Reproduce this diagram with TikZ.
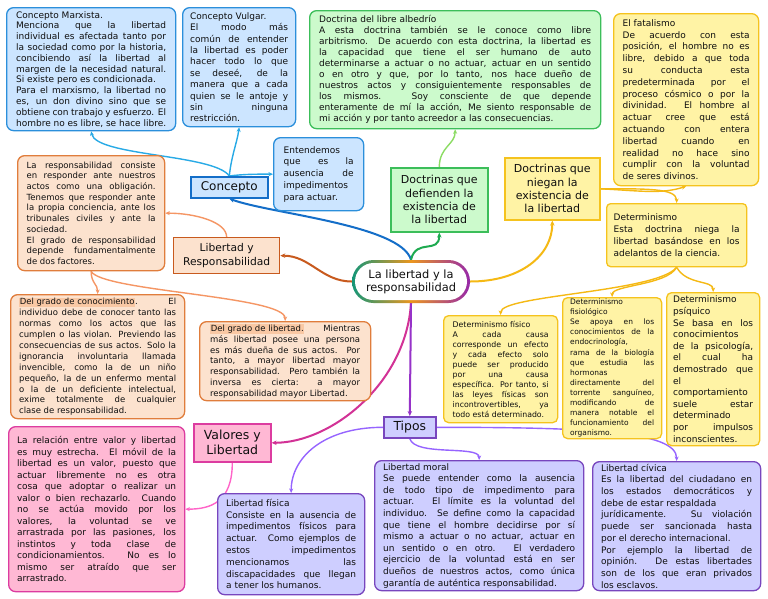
\documentclass[tikz,border=0pt]{standalone}
\usepackage{fontspec}
\setmainfont{DejaVu Sans}
\usetikzlibrary{arrows.meta,backgrounds}

\definecolor{txt}{RGB}{15,15,15}
\definecolor{bluefill}{RGB}{204,229,255}
\definecolor{bluedraw}{RGB}{43,143,219}
\definecolor{greenfill}{RGB}{204,250,204}
\definecolor{greendraw}{RGB}{60,190,90}
\definecolor{yellowfill}{RGB}{255,243,165}
\definecolor{yellowdraw}{RGB}{245,195,30}
\definecolor{peachfill}{RGB}{252,226,206}
\definecolor{peachdraw}{RGB}{224,125,60}
\definecolor{hlpeach}{RGB}{249,200,164}
\definecolor{pinkfill}{RGB}{255,184,212}
\definecolor{pinkdraw}{RGB}{220,60,160}
\definecolor{lilacfill}{RGB}{206,206,255}
\definecolor{lilacdraw}{RGB}{120,70,190}
\definecolor{cdeep}{RGB}{20,110,200}
\definecolor{csky}{RGB}{40,170,230}
\definecolor{cgreen}{RGB}{30,170,80}
\definecolor{cmint}{RGB}{140,220,100}
\definecolor{cgold}{RGB}{245,185,20}
\definecolor{cbrown}{RGB}{200,90,30}
\definecolor{cpeach}{RGB}{245,150,100}
\definecolor{cmagenta}{RGB}{210,50,150}
\definecolor{cpink}{RGB}{255,100,200}
\definecolor{cviolet}{RGB}{150,50,200}
\definecolor{clav}{RGB}{150,100,255}
\definecolor{ringteal}{RGB}{20,150,120}
\definecolor{ringorange}{RGB}{235,150,30}
\definecolor{ringpurple}{RGB}{150,40,170}

\tolerance=10000
\hbadness=10000
\hyphenpenalty=10000
\exhyphenpenalty=10000

\newcommand\fs[2]{\fontsize{#1}{#2}\selectfont}
\newcommand\hlt[1]{{\setlength{\fboxsep}{0.6pt}\colorbox{hlpeach}{#1}}}

\tikzset{
	note/.style={rectangle, rounded corners=7pt, line width=1.3pt, inner sep=0pt,
		anchor=north west, align=justify, text=txt},
	bluenote/.style={note, draw=bluedraw, fill=bluefill},
	greennote/.style={note, draw=greendraw, fill=greenfill},
	yellownote/.style={note, draw=yellowdraw, fill=yellowfill},
	peachnote/.style={note, draw=peachdraw, fill=peachfill},
	pinknote/.style={note, draw=pinkdraw, fill=pinkfill},
	lilacnote/.style={note, draw=lilacdraw, fill=lilacfill},
	topic/.style={rectangle, line width=1.6pt, inner sep=0pt, anchor=north west,
		align=center, text=txt},
	branch/.style={line width=2pt, -{Stealth[length=5pt,width=4.5pt]}},
	twig/.style={line width=1.4pt, -{Stealth[length=4.5pt,width=4pt]}},
}

\begin{document}
\begin{tikzpicture}[x=1pt, y=-1pt]
	\useasboundingbox (0,0) rectangle (768,598);

	% Centre
	\node[rectangle, rounded corners=21.5pt, minimum width=118pt, minimum height=43pt, inner sep=0pt,
		left color=ringteal, right color=ringpurple, middle color=ringorange] (root) at (411,281.5) {};
	\node[rectangle, rounded corners=18.5pt, minimum width=112pt, minimum height=37pt, inner sep=0pt,
		fill=white, align=center, text=txt, font=\fs{11.4}{13.3}] (roottext) at (root.center)
		{La libertad y la\\responsabilidad};

	% Concepto
	\node[topic, draw=cdeep, fill=bluefill, minimum width=77pt, minimum height=21pt, font=\fs{12}{14}]
		(concepto) at (190,176) {Concepto};

	\node[bluenote, minimum width=169pt, minimum height=123pt, text width=150pt, font=\fs{9}{10.8}]
		(marx) at (6,7) {Concepto Marxista.\newline
		Menciona que la libertad\linebreak
		individual es afectada tanto por\linebreak
		la sociedad como por la historia,\linebreak
		concibiendo así la libertad al\linebreak
		margen de la necesidad natural.\linebreak
		Si existe pero es condicionada.\newline
		Para el marxismo, la libertad no\linebreak
		es, un don divino sino que se\linebreak
		obtiene con trabajo y esfuerzo. El\linebreak
		hombre no es libre, se hace libre.};

	\node[bluenote, minimum width=113pt, minimum height=119pt, text width=98pt, font=\fs{9}{11.4}]
		(vulg) at (182,7) {Concepto Vulgar.\newline
		El modo más\linebreak
		común de entender\linebreak
		la libertad es poder\linebreak
		hacer todo lo que\linebreak
		se deseé, de la\linebreak
		manera que a cada\linebreak
		quien se le antoje y\linebreak
		sin ninguna\linebreak
		restricción.};

	\node[bluenote, minimum width=90pt, minimum height=73pt, text width=70pt, font=\fs{9}{11.7}]
		(entend) at (273,137) {Entendemos\newline
		que es la\linebreak
		ausencia de\linebreak
		impedimentos\newline
		para actuar.};

	% Doctrinas que defienden
	\node[topic, draw=greendraw, fill=greenfill, minimum width=97pt, minimum height=64pt, font=\fs{11}{13.3}]
		(defiend) at (390,167) {Doctrinas que\\defienden la\\existencia de\\la libertad};

	\node[greennote, minimum width=291pt, minimum height=118pt, text width=272pt, font=\fs{9}{11}]
		(albe) at (309,10) {Doctrina del libre albedrío\newline
		A esta doctrina también se le conoce como libre\linebreak
		arbitrismo. De acuerdo con esta doctrina, la libertad es\linebreak
		la capacidad que tiene el ser humano de auto\linebreak
		determinarse a actuar o no actuar, actuar en un sentido\linebreak
		o en otro y que, por lo tanto, nos hace dueño de\linebreak
		nuestros actos y consiguientemente responsables de\linebreak
		los mismos. Soy consciente de que depende\linebreak
		enteramente de mí la acción, Me siento responsable de\linebreak
		mi acción y por tanto acreedor a las consecuencias.};

	% Doctrinas que niegan
	\node[topic, draw=yellowdraw, fill=yellowfill, minimum width=95pt, minimum height=62pt, font=\fs{11}{13.3}]
		(niegan) at (504,157) {Doctrinas que\\niegan la\\existencia de\\la libertad};

	\node[yellownote, minimum width=145pt, minimum height=172pt, text width=127pt, font=\fs{9}{11.8}]
		(fatal) at (613,13) {El fatalismo\newline
		De acuerdo con esta\linebreak
		posición, el hombre no es\linebreak
		libre, debido a que toda\linebreak
		su conducta esta\linebreak
		predeterminada por el\linebreak
		proceso cósmico o por la\linebreak
		divinidad. El hombre al\linebreak
		actuar cree que está\linebreak
		actuando con entera\linebreak
		libertad cuando en\linebreak
		realidad no hace sino\linebreak
		cumplir con la voluntad\linebreak
		de seres divinos.};

	\node[yellownote, rounded corners=4pt, minimum width=140pt, minimum height=63pt, text width=126pt, font=\fs{9}{11.7}]
		(determ) at (606,203) {Determinismo\newline
		Esta doctrina niega la\linebreak
		libertad basándose en los\linebreak
		adelantos de la ciencia.};

	\node[yellownote, rounded corners=5pt, minimum width=114pt, minimum height=107pt, text width=96pt, font=\fs{7.8}{10}]
		(fisico) at (443,315) {Determinismo físico\newline
		A cada causa\linebreak
		corresponde un efecto\linebreak
		y cada efecto solo\linebreak
		puede ser producido\linebreak
		por una causa\linebreak
		específica. Por tanto, si\linebreak
		las leyes físicas son\linebreak
		incontrovertibles, ya\linebreak
		todo está determinado.};

	\node[yellownote, rounded corners=5pt, minimum width=99pt, minimum height=141pt, text width=84pt, font=\fs{7.5}{10.1}]
		(fisiol) at (562,297) {Determinismo\newline
		fisiológico\newline
		Se apoya en los\linebreak
		conocimientos de la\linebreak
		endocrinología,\newline
		rama de la biología\linebreak
		que estudia las\linebreak
		hormonas\newline
		directamente del\linebreak
		torrente sanguíneo,\linebreak
		modificando de\linebreak
		manera notable el\linebreak
		funcionamiento del\linebreak
		organismo.};

	\node[yellownote, rounded corners=5pt, minimum width=93pt, minimum height=153pt, text width=80pt, font=\fs{9}{11.6}]
		(psiq) at (666,292) {Determinismo\newline
		psíquico\newline
		Se basa en los\linebreak
		conocimientos\newline
		de la psicología,\linebreak
		el cual ha\linebreak
		demostrado que\linebreak
		el\newline
		comportamiento\newline
		suele estar\linebreak
		determinado\newline
		por impulsos\linebreak
		inconscientes.};

	% Libertad y Responsabilidad
	\node[topic, draw=cbrown, fill=peachfill, line width=1.3pt, minimum width=106pt, minimum height=36pt, font=\fs{10.7}{13.3}]
		(lyr) at (173,237) {Libertad y\\Responsabilidad};

	\node[peachnote, minimum width=147pt, minimum height=115pt, text width=129pt, font=\fs{8.5}{10.7}]
		(resp) at (17,155) {La responsabilidad consiste\linebreak
		en responder ante nuestros\linebreak
		actos como una obligación.\linebreak
		Tenemos que responder ante\linebreak
		la propia conciencia, ante los\linebreak
		tribunales civiles y ante la\linebreak
		sociedad.\newline
		El grado de responsabilidad\linebreak
		depende fundamentalmente\linebreak
		de dos factores.};

	\node[peachnote, minimum width=174pt, minimum height=124pt, text width=157pt, font=\fs{8.5}{10.9}]
		(conoc) at (10,294) {\hlt{Del grado de conocimiento}. El\linebreak
		individuo debe de conocer tanto las\linebreak
		normas como los actos que las\linebreak
		cumplen o las violan. Previendo las\linebreak
		consecuencias de sus actos. Solo la\linebreak
		ignorancia involuntaria llamada\linebreak
		invencible, como la de un niño\linebreak
		pequeño, la de un enfermo mental\linebreak
		o la de un deficiente intelectual,\linebreak
		exime totalmente de cualquier\linebreak
		clase de responsabilidad.};

	\node[peachnote, minimum width=171pt, minimum height=79pt, text width=150pt, font=\fs{8.5}{10.8}]
		(gradlib) at (199,321) {\hlt{Del grado de libertad.} Mientras\linebreak
		más libertad posee una persona\linebreak
		es más dueña de sus actos. Por\linebreak
		tanto, a mayor libertad mayor\linebreak
		responsabilidad. Pero también la\linebreak
		inversa es cierta: a mayor\linebreak
		responsabilidad mayor Libertad.};

	% Valores y Libertad
	\node[topic, draw=pinkdraw, fill=pinkfill, minimum width=77pt, minimum height=38pt, font=\fs{12.5}{15}]
		(valores) at (193,423) {Valores y\\Libertad};

	\node[pinknote, minimum width=176pt, minimum height=165pt, text width=159pt, font=\fs{9}{11.5}]
		(relac) at (8,426) {La relación entre valor y libertad\linebreak
		es muy estrecha. El móvil de la\linebreak
		libertad es un valor, puesto que\linebreak
		actuar libremente no es otra\linebreak
		cosa que adoptar o realizar un\linebreak
		valor o bien rechazarlo. Cuando\linebreak
		no se actúa movido por los\linebreak
		valores, la voluntad se ve\linebreak
		arrastrada por las pasiones, los\linebreak
		instintos y toda clase de\linebreak
		condicionamientos. No es lo\linebreak
		mismo ser atraído que ser\linebreak
		arrastrado.};

	% Tipos
	\node[topic, draw=lilacdraw, fill=lilacfill, minimum width=52pt, minimum height=21pt, font=\fs{12.4}{14}]
		(tipos) at (383,416) {Tipos};

	\node[lilacnote, minimum width=147pt, minimum height=101pt, text width=130pt, font=\fs{9}{11.8}]
		(fisica) at (217,493) {Libertad física\newline
		Consiste en la ausencia de\linebreak
		impedimentos físicos para\linebreak
		actuar. Como ejemplos de\linebreak
		estos impedimentos\linebreak
		mencionamos las\linebreak
		discapacidades que llegan\linebreak
		a tener los humanos.};

	\node[lilacnote, minimum width=209pt, minimum height=130pt, text width=192pt, font=\fs{9}{11.6}]
		(moral) at (374,460) {Libertad moral\newline
		Se puede entender como la ausencia\linebreak
		de todo tipo de impedimento para\linebreak
		actuar. El límite es la voluntad del\linebreak
		individuo. Se define como la capacidad\linebreak
		que tiene el hombre decidirse por sí\linebreak
		mismo a actuar o no actuar, actuar en\linebreak
		un sentido o en otro. El verdadero\linebreak
		ejercicio de la voluntad está en ser\linebreak
		dueños de nuestros actos, como única\linebreak
		garantía de auténtica responsabilidad.};

	\node[lilacnote, minimum width=168pt, minimum height=129pt, text width=151pt, font=\fs{9}{11.7}]
		(civica) at (592,461) {Libertad cívica\newline
		Es la libertad del ciudadano en\linebreak
		los estados democráticos y\linebreak
		debe de estar respaldada\newline
		jurídicamente. Su violación\linebreak
		puede ser sancionada hasta\linebreak
		por el derecho internacional.\newline
		Por ejemplo la libertad de\linebreak
		opinión. De estas libertades\linebreak
		son de los que eran privados\linebreak
		los esclavos.};

	% Connectors, behind the boxes
	\begin{scope}[on background layer]
		\fill[white] (0,0) rectangle (768,598);

		\draw[branch, cdeep] (root.north) .. controls +(-10,-35) and +(40,15) .. (concepto.south);
		\draw[twig, csky] (concepto.north) .. controls +(-15,-22) and +(5,25) .. (marx.south);
		\draw[twig, csky] (concepto.north) .. controls +(2,-20) and +(-2,15) .. (vulg.south);
		\draw[twig, csky] (concepto.north) .. controls +(15,-2) and +(-15,0) .. (entend.west);

		\draw[branch, cgreen] (root.north) .. controls +(5,-22) and +(0,22) .. (defiend.south);
		\draw[twig, cmint] (defiend.north) .. controls +(0,-20) and +(0,15) .. (albe.south);

		\draw[branch, cgold] (root.east) .. controls +(50,0) and +(0,35) .. (niegan.south);
		\draw[twig, cgold] (niegan.east) .. controls +(40,2) and +(-25,8) .. (fatal.south);
		\draw[twig, cgold] (niegan.east) .. controls +(45,0) and +(0,-15) .. (determ.north);
		\draw[twig, cgold] (determ.south) .. controls +(-20,25) and +(0,-20) .. (fisico.north);
		\draw[twig, cgold] (determ.south) .. controls +(-10,18) and +(0,-12) .. (fisiol.north);
		\draw[twig, cgold] (determ.south) .. controls +(10,18) and +(0,-12) .. (psiq.north);

		\draw[branch, cbrown] (root.west) .. controls +(-30,0) and +(30,0) .. (lyr.east);
		\draw[twig, cpeach] (lyr.north) .. controls +(0,-15) and +(30,0) .. (resp.east);
		\draw[twig, cpeach] (resp.south) .. controls +(0,12) and +(0,-10) .. (conoc.north);
		\draw[twig, cpeach] (resp.south) .. controls +(10,20) and +(0,-25) .. (gradlib.north);

		\draw[branch, cmagenta] (root.south) .. controls +(-5,80) and +(60,0) .. (valores.east);
		\draw[twig, cpink] (valores.south) .. controls +(0,40) and +(25,0) .. (relac.east);

		\draw[branch, cviolet] (root.south) -- (tipos.north);
		\draw[twig, clav] (tipos.west) .. controls +(-60,0) and +(0,-35) .. (fisica.north);
		\draw[twig, clav] (tipos.south) .. controls +(5,18) and +(0,-15) .. (moral.north);
		\draw[twig, clav] (tipos.east) .. controls +(150,0) and +(0,-30) .. (civica.north);
	\end{scope}
\end{tikzpicture}
\end{document}
